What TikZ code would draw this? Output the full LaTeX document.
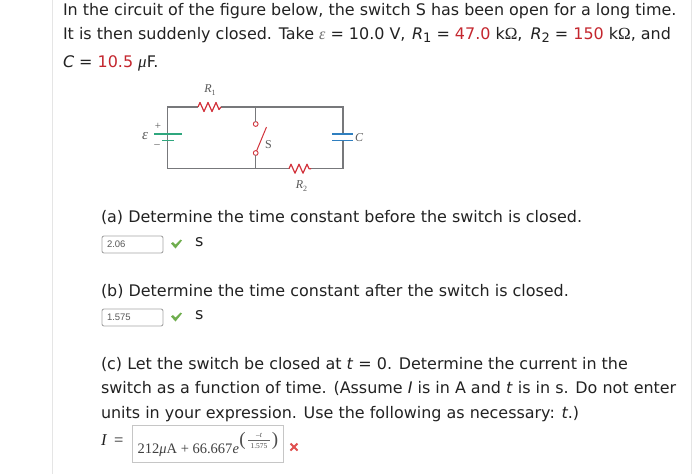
\documentclass[tikz,border=0pt]{standalone}
\usepackage{fontspec}
\setmainfont{DejaVu Sans}
\newfontfamily\serifgr{Liberation Serif}
\newfontfamily\sansans{Liberation Sans}
\definecolor{ansred}{HTML}{C4262E}
\definecolor{wire}{HTML}{77787B}
\definecolor{resred}{HTML}{D2333C}
\definecolor{batgreen}{HTML}{2FA77E}
\definecolor{capblue}{HTML}{2F7FBF}
\definecolor{okgreen}{HTML}{6FAE4E}
\definecolor{badred}{HTML}{E0504F}
\definecolor{txt}{HTML}{222222}
\newcommand{\ans}[1]{\textcolor{ansred}{#1}}
\newcommand{\subs}[1]{\raisebox{-0.25em}{\fontsize{13}{14}\selectfont #1}}
\newcommand{\gmu}{{\serifgr\itshape\fontsize{17}{18}\selectfont μ}}
\newcommand{\gOm}{{\serifgr\fontsize{17}{18}\selectfont Ω}}
\newcommand{\gep}{{\serifgr\itshape\textcolor{black!60}{ε}}}
\tikzset{
  x=1pt,y=-1pt,
  every node/.style={inner sep=0pt,outer sep=0pt,text=txt},
  line/.style={anchor=base west,font=\fontsize{15.95}{18}\selectfont},
  wirepath/.style={draw=wire,line width=1.1pt},
  respath/.style={draw=resred,line width=1.2pt,line join=round},
  batplate/.style={draw=batgreen,line width=1.4pt},
  capplate/.style={draw=capblue,line width=1.5pt},
  swpath/.style={draw=resred,line width=1pt},
  contact/.style={circle,draw=resred,line width=0.9pt,minimum size=4.8pt,fill=white},
  ansbox/.style={draw=gray!70,line width=0.9pt,rounded corners=2pt,fill=white},
  anstext/.style={anchor=base west,font=\sansans\fontsize{9.5}{10}\selectfont,text=black!65},
  circlabel/.style={font=\serifgr\itshape\fontsize{12}{13}\selectfont,text=black!65},
  unitS/.style={anchor=base west,font=\fontsize{16}{18}\selectfont},
  frameline/.style={draw=black!10,line width=1pt},
  mathtxt/.style={font=\serifgr\fontsize{14.5}{16}\selectfont,text=black!75},
  exptxt/.style={font=\serifgr\fontsize{7.5}{8}\selectfont,text=black!70},
  okmark/.style={fill=okgreen,draw=none},
  badmark/.style={draw=badred,line width=2pt},
}
\begin{document}
\begin{tikzpicture}
\useasboundingbox (0,0) rectangle (700,474);
\fill[white] (0,0) rectangle (700,474);
\draw[frameline] (52,0) -- (52,474);
\draw[frameline] (691,0) -- (691,474);

% question text
\node[line] (l1) at (63,15) {In the circuit of the figure below, the switch S has been open for a long time.};
\node[line] (l2) at (63,39) {It is then suddenly closed. Take \gep{} = 10.0 V,\hspace{1.5pt} \textit{R}\subs{1} = \ans{47.0} k\gOm,\hspace{3pt} \textit{R}\subs{2} = \ans{150} k\gOm, and};
\node[line] (l3) at (63,67) {\textit{C} = \ans{10.5} \gmu F.};

% circuit
\coordinate (tl) at (167.7,107);
\coordinate (tr) at (343,107);
\coordinate (bl) at (167.7,168.7);
\coordinate (br) at (343,168.7);
\coordinate (tm) at (255.7,107);
\coordinate (bm) at (255.7,168.7);
\coordinate (bat1) at (167.7,134);
\coordinate (bat2) at (167.7,140.7);
\coordinate (cap1) at (343,134);
\coordinate (cap2) at (343,140.7);
\coordinate (r1a) at (198,107);
\coordinate (r1b) at (221,107);
\coordinate (r2a) at (289,168.7);
\coordinate (r2b) at (311,168.7);
\draw[wirepath] (bat1) -- (tl) -- (r1a);
\draw[wirepath] (r1b) -- (tr) -- (cap1);
\draw[wirepath] (cap2) -- (br) -- (r2b);
\draw[wirepath] (r2a) -- (bl) -- (bat2);
\draw[wirepath] (bat1) -- (bat2);
\node[contact] (sw1) at (255.7,124) {};
\node[contact] (sw2) at (255.7,153) {};
\draw[wirepath] (tm) -- (sw1);
\draw[wirepath] (sw2) -- (bm);
\coordinate (blade) at (266.5,127);
\draw[swpath] (sw2) -- (blade);
\draw[respath] (r1a) -- ++(2,-4.5) -- ++(4,9) -- ++(4,-9) -- ++(4,9) -- ++(4,-9) -- ++(3,7) -- (r1b);
\draw[respath] (r2a) -- ++(2,-4.5) -- ++(4,9) -- ++(4,-9) -- ++(4,9) -- ++(4,-9) -- ++(2,4.5) -- (r2b);
\coordinate (bp1a) at (154,134); \coordinate (bp1b) at (182,134);
\coordinate (bp2a) at (162,140.7); \coordinate (bp2b) at (174,140.7);
\draw[batplate] (bp1a) -- (bp1b);
\draw[batplate] (bp2a) -- (bp2b);
\coordinate (cp1a) at (332,134); \coordinate (cp1b) at (353,134);
\coordinate (cp2a) at (332,140.7); \coordinate (cp2b) at (353,140.7);
\draw[capplate] (cp1a) -- (cp1b);
\draw[capplate] (cp2a) -- (cp2b);
\node[circlabel] (lr1) at (210,90) {R\raisebox{-0.3em}{\fontsize{8}{9}\selectfont\upshape 1}};
\node[circlabel] (lr2) at (301.5,186) {R\raisebox{-0.3em}{\fontsize{8}{9}\selectfont\upshape 2}};
\node[circlabel] (lc) at (359,138) {C};
\node[circlabel,font=\serifgr\fontsize{12}{13}\selectfont] (ls) at (268.5,145) {S};
\node[circlabel,font=\serifgr\itshape\fontsize{15}{16}\selectfont] (le) at (145,136) {ε};
\node[circlabel,font=\serifgr\fontsize{11}{12}\selectfont] (lp) at (158,126.5) {+};
\node[circlabel,font=\serifgr\fontsize{11}{12}\selectfont] (lm) at (157,146) {–};

% part a
\node[line] (qa) at (101,222) {(a) Determine the time constant before the switch is closed.};
\node[ansbox,minimum width=61pt,minimum height=17pt,anchor=north west] (ba) at (102,236) {};
\node[anstext] (ta) at (107,247.5) {2.06};
\fill[okmark] (171,243.5) -- (173,242) -- (175.5,244.5) -- (180.5,239.5) -- (182,240.5) -- (175.5,248.5) -- cycle;
\node[unitS] (sa) at (195,246.7) {s};

% part b
\node[line] (qb) at (101,296) {(b) Determine the time constant after the switch is closed.};
\node[ansbox,minimum width=61pt,minimum height=17pt,anchor=north west] (bb) at (102,309) {};
\node[anstext] (tb) at (107,320.5) {1.575};
\fill[okmark] (171,316.5) -- (173,315) -- (175.5,317.5) -- (180.5,312.5) -- (182,313.5) -- (175.5,321.5) -- cycle;
\node[unitS] (sb) at (195,319.7) {s};

% part c
\node[line] (qc1) at (101,369) {(c) Let the switch be closed at \textit{t} = 0. Determine the current in the};
\node[line] (qc2) at (101,393) {switch as a function of time. (Assume \textit{I} is in A and \textit{t} is in s. Do not enter};
\node[line] (qc3) at (101,418) {units in your expression. Use the following as necessary: \textit{t}.)};
\node[anchor=base west,font=\serifgr\fontsize{16.5}{18}\selectfont] (ieq) at (101,445) {\textit{I} \,=};
\node[draw=gray!45,line width=0.9pt,fill=white,minimum width=151pt,minimum height=37pt,anchor=north west] (bi) at (132,425) {};
\node[mathtxt,anchor=base west] (ti) at (137.7,453.3) {212\textit{μ}A + 66.667\textit{e}};
\node[font=\serifgr\fontsize{19}{20}\selectfont,text=black!70] (pl) at (242.5,440.5) {(};
\node[font=\serifgr\fontsize{19}{20}\selectfont,text=black!70] (pr) at (275,440.5) {)};
\node[exptxt] (en) at (259,435.5) {–\textit{t}};
\node[exptxt] (ed) at (259,446) {1.575};
\coordinate (fa) at (248,440.3);
\coordinate (fb) at (270,440.3);
\draw[black!60,line width=0.5pt] (fa) -- (fb);
\coordinate (xa) at (290.5,443.5); \coordinate (xb) at (297.5,450.5);
\coordinate (xc) at (297.5,443.5); \coordinate (xd) at (290.5,450.5);
\draw[badmark] (xa) -- (xb);
\draw[badmark] (xc) -- (xd);
\end{tikzpicture}
\end{document}
